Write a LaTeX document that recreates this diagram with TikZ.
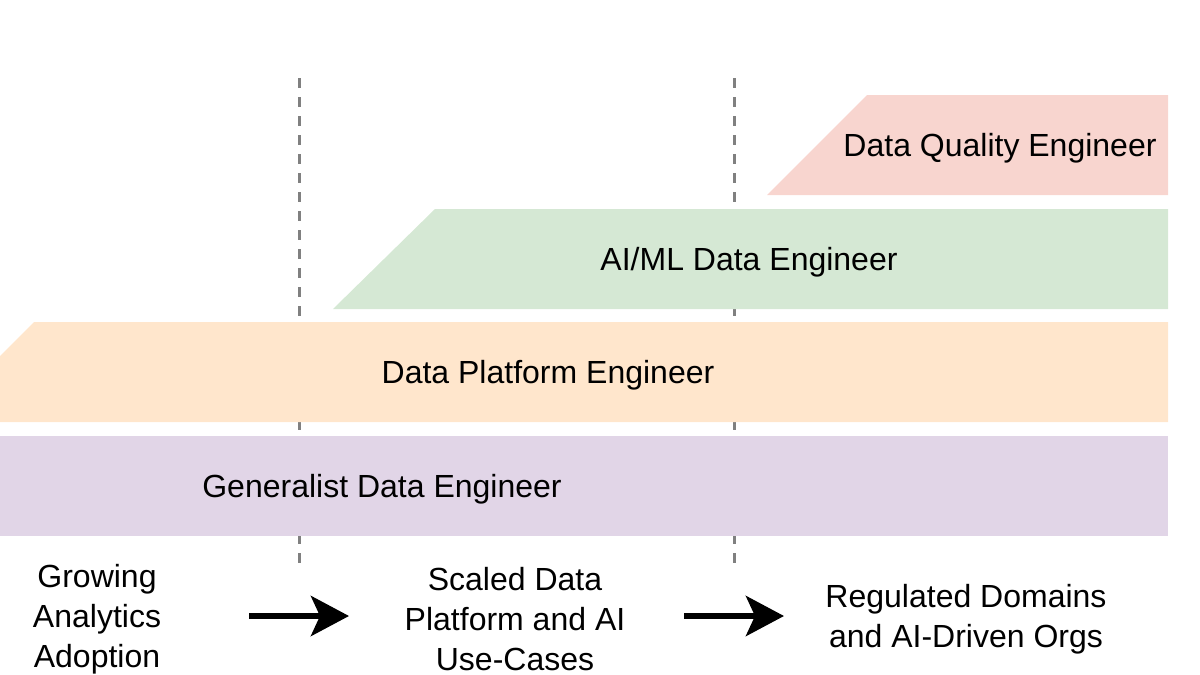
\documentclass[tikz,border=0pt]{standalone}
\usepackage{fontspec}
\setmainfont{Liberation Sans}
\usetikzlibrary{arrows.meta}
\definecolor{pinkb}{HTML}{F8D5CF}
\definecolor{greenb}{HTML}{D5E8D4}
\definecolor{orangeb}{HTML}{FFE6CC}
\definecolor{purpleb}{HTML}{E1D5E7}
\begin{document}
\begin{tikzpicture}[x=1pt,y=-1pt,
 lbl/.style={font=\fontsize{32}{40}\selectfont,text=black,align=center,inner sep=0},
 vdash/.style={gray,line width=3pt,dash pattern=on 10pt off 9pt},
 arr/.style={line width=6pt,-{Stealth[length=38pt,width=40pt,inset=9pt]}}]
\useasboundingbox (0,0) rectangle (1200,675);
\coordinate (d1a) at (299,78); \coordinate (d1b) at (299,570);
\coordinate (d2a) at (734,78); \coordinate (d2b) at (734,570);
\draw[vdash] (d1a) -- (d1b);
\draw[vdash] (d2a) -- (d2b);
\fill[pinkb] (867,95) -- (1168,95) -- (1168,195) -- (767,195) -- cycle;
\fill[greenb] (435,209) -- (1168,209) -- (1168,309) -- (333,309) -- cycle;
\fill[orangeb] (34,322) -- (1168,322) -- (1168,422) -- (0,422) -- (0,356) -- cycle;
\fill[purpleb] (0,436) rectangle (1168,536);
\node[lbl] (q) at (1000,148) {Data Quality Engineer};
\node[lbl] (m) at (749,262) {AI/ML Data Engineer};
\node[lbl] (p) at (548,375) {Data Platform Engineer};
\node[lbl] (g) at (382,489) {Generalist Data Engineer};
\node[lbl] (s1) at (97,619) {Growing\\Analytics\\Adoption};
\node[lbl] (s2) at (515,619) {Scaled Data\\Platform and AI\\Use-Cases};
\node[lbl] (s3) at (966,619) {Regulated Domains\\and AI-Driven Orgs};
\coordinate (a1s) at (249,616); \coordinate (a1e) at (349,616);
\coordinate (a2s) at (684,616); \coordinate (a2e) at (784,616);
\draw[arr] (a1s) -- (a1e);
\draw[arr] (a2s) -- (a2e);
\end{tikzpicture}
\end{document}
